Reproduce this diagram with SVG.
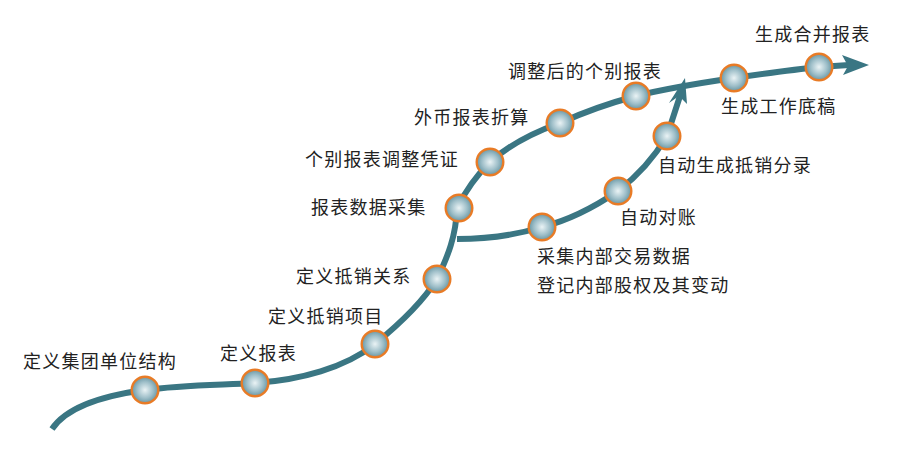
<svg xmlns="http://www.w3.org/2000/svg" width="922" height="451" viewBox="0 0 922 451">
<style>
.c{fill:none;stroke:#3a7683;stroke-width:6}
.h{fill:#3a7683}
.n{fill:url(#g);stroke:#e87b26;stroke-width:2.4}
text{font-family:"Noto Sans CJK SC","Liberation Sans",sans-serif;font-size:18px;letter-spacing:1.250px;fill:#222}
</style>
<defs>
<radialGradient id="g" cx="0.5" cy="0.5" r="0.55">
<stop offset="0" stop-color="#eaf3f5"/>
<stop offset="0.55" stop-color="#9fbfc9"/>
<stop offset="1" stop-color="#5a8c9a"/>
</radialGradient>
<circle id="b" r="13.300" class="n"/>
</defs>
<rect width="922" height="451" fill="#fff"/>
<g id="connectors">
<path class="c" d="M52 429C66 408 100 396 145 390C180 385 220 385 255 383C300 380 345 368 375 344C402 322 424 300 437 279C448 256 456 236 457 208C466 190 476 176 490 162C508 146 532 133 560 123C584 112 610 103 636 96C668 88 700 83 734 78C762 74 790 70 819 67L849 65"/>
<path class="h" d="M869 65L842 55L848 66L843 75Z"/>
<path class="c" d="M457 239C490 239 516 235 542 227C570 220 596 206 618 191C640 174 655 156 667 136L680 96"/>
<path class="h" d="M685 78L669 103L679 96L687 104Z"/>
</g>
<g id="n1"><use href="#b" x="145" y="390"/><text x="23" y="368">定义集团单位结构</text></g>
<g id="n2"><use href="#b" x="255" y="383"/><text x="220" y="360">定义报表</text></g>
<g id="n3"><use href="#b" x="375" y="344"/><text x="268" y="323">定义抵销项目</text></g>
<g id="n4"><use href="#b" x="437" y="279"/><text x="296" y="283">定义抵销关系</text></g>
<g id="n5"><use href="#b" x="459" y="208"/><text x="311" y="214">报表数据采集</text></g>
<g id="n6"><use href="#b" x="490" y="162"/><text x="305" y="166">个别报表调整凭证</text></g>
<g id="n7"><use href="#b" x="560" y="123"/><text x="414" y="124">外币报表折算</text></g>
<g id="n8"><use href="#b" x="636" y="96"/><text x="508" y="78">调整后的个别报表</text></g>
<g id="n9"><use href="#b" x="734" y="78"/><text x="721" y="113">生成工作底稿</text></g>
<g id="n10"><use href="#b" x="819" y="67"/><text x="755" y="41">生成合并报表</text></g>
<g id="n11"><use href="#b" x="542" y="227"/><text x="537" y="263">采集内部交易数据</text><text x="537" y="292">登记内部股权及其变动</text></g>
<g id="n12"><use href="#b" x="618" y="191"/><text x="620" y="224">自动对账</text></g>
<g id="n13"><use href="#b" x="667" y="136"/><text x="658" y="172">自动生成抵销分录</text></g>
</svg>
